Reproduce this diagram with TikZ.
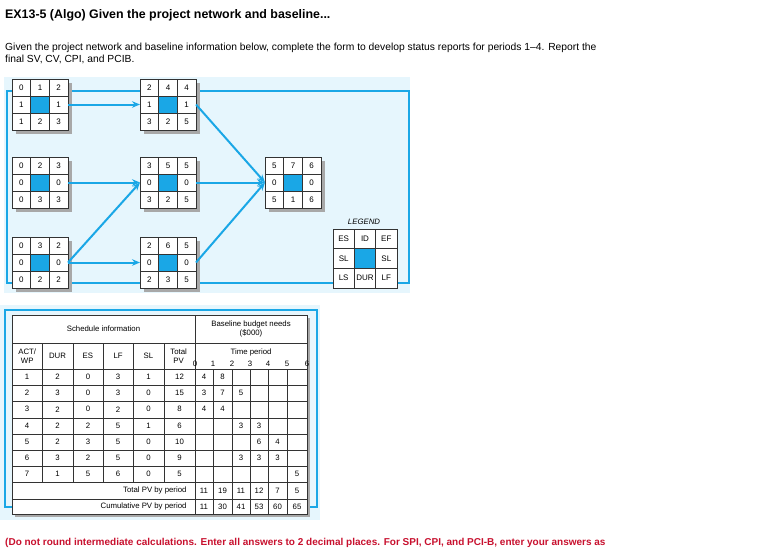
\documentclass[tikz,border=0pt]{standalone}
\usepackage{fontspec}
\setmainfont{Liberation Sans}
\usetikzlibrary{arrows.meta}
\definecolor{nb}{HTML}{1AA7E6}
\definecolor{bgl}{HTML}{E6F6FD}
\definecolor{sh}{HTML}{A8A8A8}
\definecolor{rq}{HTML}{C8102E}
\tikzset{
  cellt/.style={font=\fontsize{8}{9}\selectfont},
  tabt/.style={font=\fontsize{7.8}{8.6}\selectfont},
  conn/.style={nb,line width=2pt,-{Stealth[length=8pt,width=6.5pt]}},
  gridl/.style={black!80,line width=0.7pt}
}
\newcommand\nbox[6]{%
  \fill[sh] (#2+4,#3+4) rectangle ++(56,51);
  \fill[white] (#2,#3) rectangle ++(56,51);
  \fill[nb] (#2+18.67,#3+17) rectangle ++(18.67,17);
  \foreach \k in {1,2} {\draw[gridl] (#2+18.67*\k,#3) -- ++(0,51); \draw[gridl] (#2,#3+17*\k) -- ++(56,0);}
  \draw[gridl] (#2,#3) rectangle ++(56,51);
  \foreach \t [count=\i from 0] in {#4} \node[cellt] at (#2+9.33+18.67*\i,#3+8.5) {\t};
  \foreach \t [count=\i from 0] in {#5} \node[cellt] at (#2+9.33+37.33*\i,#3+25.5) {\t};
  \foreach \t [count=\i from 0] in {#6} \node[cellt] at (#2+9.33+18.67*\i,#3+42.5) {\t};
  \coordinate (#1L) at (#2,#3+25.5);
  \coordinate (#1R) at (#2+56,#3+25.5);
}
\begin{document}
\begin{tikzpicture}[x=1pt,y=-1pt]
\useasboundingbox (0,0) rectangle (762,555);
\fill[white] (0,0) rectangle (762,555);
\node[anchor=base west,font=\bfseries\fontsize{12.4}{14}\selectfont,inner sep=0] (title) at (5,18) {EX13-5 (Algo) Given the project network and baseline...};
\node[anchor=base west,font=\fontsize{10.3}{12}\selectfont,inner sep=0] (desc) at (5,50) {Given the project network and baseline information below, complete the form to develop status reports for periods 1--4. Report the};
\node[anchor=base west,font=\fontsize{10.3}{12}\selectfont,inner sep=0] (desc2) at (5,62) {final SV, CV, CPI, and PCIB.};
% network
\fill[bgl] (4,77) rectangle (410,293);
\draw[nb,line width=1.4pt] (7,91) rectangle (409,283);
\nbox{a}{12}{79}{0,1,2}{1,1}{1,2,3}
\nbox{b}{12}{157}{0,2,3}{0,0}{0,3,3}
\nbox{c}{12}{237}{0,3,2}{0,0}{0,2,2}
\nbox{d}{140}{79}{2,4,4}{1,1}{3,2,5}
\nbox{e}{140}{157}{3,5,5}{0,0}{3,2,5}
\nbox{f}{140}{237}{2,6,5}{0,0}{2,3,5}
\nbox{g}{265}{157}{5,7,6}{0,0}{5,1,6}
\draw[conn] (aR) -- (dL);
\draw[conn] (bR) -- (eL);
\draw[conn] (cR) -- (eL);
\draw[conn] (cR) -- (fL);
\draw[conn] (dR) -- (gL);
\draw[conn] (eR) -- (gL);
\draw[conn] (fR) -- (gL);
% legend
\node[font=\itshape\fontsize{7.8}{8}\selectfont] (legt) at (364,222) {LEGEND};
\fill[white] (333,229) rectangle ++(64,59);
\fill[nb] (354.33,248.67) rectangle ++(21.33,19.67);
\foreach \k in {1,2} {\draw[gridl] (333+21.33*\k,229) -- ++(0,59); \draw[gridl] (333,229+19.67*\k) -- ++(64,0);}
\draw[gridl] (333,229) rectangle ++(64,59);
\foreach \t [count=\i from 0] in {ES,ID,EF} \node[cellt] at (343.67+21.33*\i,238.83) {\t};
\foreach \t [count=\i from 0] in {SL,SL} \node[cellt] at (343.67+42.67*\i,258.5) {\t};
\foreach \t [count=\i from 0] in {LS,DUR,LF} \node[cellt] at (343.67+21.33*\i,278.17) {\t};
% table
\fill[bgl] (0,305) rectangle (320,520);
\draw[nb,line width=1.4pt] (5,310) rectangle (317,507);
\fill[sh] (15,318) rectangle (310,517);
\fill[white] (12,315) rectangle (307,514);
\begin{scope}[gridl]
\draw (12,315) rectangle (307,514);
\draw (195,315) -- (195,514);
\draw (12,343) -- (307,343);
\draw (12,369) -- (307,369);
\foreach \x in {42,73,103,133,164} \draw (\x,343) -- (\x,482);
\foreach \x in {213,232,250,268,287} \draw (\x,369) -- (\x,514);
\foreach \y in {385,401,418,434,450,466} \draw (12,\y) -- (307,\y);
\draw (12,482) -- (307,482);
\draw (12,499) -- (307,499);
\end{scope}
\node[tabt] (sch) at (103.5,329) {Schedule information};
\node[tabt,align=center] (bbn) at (251,329) {Baseline budget needs\\(\$000)};
\foreach \t [count=\i from 0] in {{ACT/\\WP},DUR,ES,LF,SL,{Total\\PV}}
  \node[tabt,align=center,inner sep=0] at ({(12+30.3*\i)+15.2},356) {\t};
\node[tabt] (tp) at (251,352) {Time period};
\foreach \t [count=\i from 0] in {195,213,232,250,268,287,307}
  \node[tabt,inner sep=0] at (\t,364) {\i};
\foreach \r [count=\j from 0] in {{1,2,0,3,1,12},{2,3,0,3,0,15},{3,2,0,2,0,8},{4,2,2,5,1,6},{5,2,3,5,0,10},{6,3,2,5,0,9},{7,1,5,6,0,5}}{
  \foreach \v [count=\i from 0] in \r {
    \pgfmathsetmacro\cx{{27,57.5,88,118,148.5,179.5}[\i]}
    \node[tabt] at (\cx,377+16.15*\j) {\v};
  }
}
\foreach \c/\r/\v in {0/0/4,1/0/8,0/1/3,1/1/7,2/1/5,0/2/4,1/2/4,2/3/3,3/3/3,3/4/6,4/4/4,2/5/3,3/5/3,4/5/3,5/6/5}{
  \pgfmathsetmacro\cx{{204,222.5,241,259,277.5,297}[\c]}
  \node[tabt] at (\cx,377+16.15*\r) {\v};
}
\node[tabt,anchor=east] (tpv) at (190,490.5) {Total PV by period};
\node[tabt,anchor=east] (cpv) at (190,506.5) {Cumulative PV by period};
\foreach \v [count=\i from 0] in {11,19,11,12,7,5}{
  \pgfmathsetmacro\cx{{204,222.5,241,259,277.5,297}[\i]}
  \node[tabt] at (\cx,490.5) {\v};}
\foreach \v [count=\i from 0] in {11,30,41,53,60,65}{
  \pgfmathsetmacro\cx{{204,222.5,241,259,277.5,297}[\i]}
  \node[tabt] at (\cx,506.5) {\v};}
\node[anchor=base west,text=rq,font=\bfseries\fontsize{10}{12}\selectfont,inner sep=0] (note) at (5,545) {(Do not round intermediate calculations. Enter all answers to 2 decimal places. For SPI, CPI, and PCI-B, enter your answers as};
\end{tikzpicture}
\end{document}
